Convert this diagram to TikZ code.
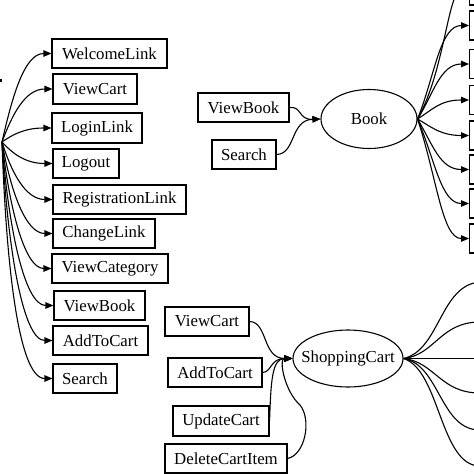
\documentclass[tikz,border=0pt]{standalone}
\usepackage{fontspec}
\setmainfont{Liberation Serif}
\usetikzlibrary{arrows.meta,shapes.geometric}
\begin{document}
\begin{tikzpicture}[x=1pt,y=-1pt,
  bx/.style={draw, line width=1.1pt, rectangle, inner sep=0pt, minimum height=29pt, font=\fontsize{16.8}{20}\selectfont},
  el/.style={draw, line width=1.1pt, ellipse, inner sep=0pt, font=\fontsize{16.8}{20}\selectfont},
  arr/.style={line width=1.1pt, -{Triangle[length=8pt,width=6.5pt]}},
  ln/.style={line width=1.1pt}]
\useasboundingbox (0,0) rectangle (474,474);
\fill[white] (0,0) rectangle (474,474);
\clip (0,0) rectangle (474,474);

% left fan
\coordinate (hubL) at (2,142);
\node[bx, minimum width=115pt] (wl) at (109.5,53.5) {WelcomeLink};
\node[bx, minimum width=84pt, minimum height=30pt] (vca) at (95,89) {ViewCart};
\node[bx, minimum width=90pt, minimum height=30pt] (ll) at (97,128) {LoginLink};
\node[bx, minimum width=66pt] (lo) at (86,163.5) {Logout};
\node[bx, minimum width=133pt] (rl) at (119.5,199.5) {RegistrationLink};
\node[bx, minimum width=102pt] (cl) at (104,233.5) {ChangeLink};
\node[bx, minimum width=116pt] (vcat) at (110,268.5) {ViewCategory};
\node[bx, minimum width=91pt] (vba) at (99.5,305.5) {ViewBook};
\node[bx, minimum width=95pt] (atca) at (100.5,340.5) {AddToCart};
\node[bx, minimum width=64pt] (sa) at (85,378.5) {Search};
\fill (0,79) rectangle (2,82);

\draw[arr] (hubL) .. controls (12,98) and (24,53.5) .. (wl.west);
\draw[arr] (hubL) .. controls (12,115) and (25,89) .. (vca.west);
\draw[arr] (hubL) .. controls (12,135) and (24,128) .. (ll.west);
\draw[arr] (hubL) .. controls (12,153) and (25,163.5) .. (lo.west);
\draw[arr] (hubL) .. controls (11,171) and (25,199.5) .. (rl.west);
\draw[arr] (hubL) .. controls (10,188) and (25,233.5) .. (cl.west);
\draw[arr] (hubL) .. controls (9,205) and (24,268.5) .. (vcat.west);
\draw[arr] (hubL) .. controls (8,224) and (24,305.5) .. (vba.west);
\draw[arr] (hubL) .. controls (7,241) and (22,340.5) .. (atca.west);
\draw[arr] (hubL) .. controls (6,260) and (18,378.5) .. (sa.west);

% Book
\node[bx, minimum width=91pt] (vbb) at (243.5,107.5) {ViewBook};
\node[bx, minimum width=64pt] (sb) at (244,154.5) {Search};
\node[el, minimum width=96pt, minimum height=59pt] (book) at (369,119) {\makebox[0pt]{Book}};
\draw[arr] (vbb.east) .. controls (302,106) and (298,120) .. (book.west);
\draw[arr] (sb.east) .. controls (296,154) and (290,120) .. (book.west);

\foreach \n/\y in {0/-9.5,1/25.5,2/64,3/100,4/135.5,5/169.5,6/203.5,7/238.5}
  \node[bx, minimum width=60pt, anchor=west] (rb\n) at (469,\y) {};
\draw[arr] (book.east) .. controls (445,70) and (448,-10) .. (rb0.west);
\draw[arr] (book.east) .. controls (435,75) and (440,25.5) .. (rb1.west);
\draw[arr] (book.east) .. controls (433,95) and (440,64) .. (rb2.west);
\draw[arr] (book.east) .. controls (432,110) and (440,100) .. (rb3.west);
\draw[arr] (book.east) .. controls (430,126) and (440,135.5) .. (rb4.west);
\draw[arr] (book.east) .. controls (433,145) and (440,169.5) .. (rb5.west);
\draw[arr] (book.east) .. controls (435,160) and (441,203.5) .. (rb6.west);
\draw[arr] (book.east) .. controls (437,178) and (442,238.5) .. (rb7.west);

% ShoppingCart
\node[bx, minimum width=84pt] (vcb) at (207,321.5) {ViewCart};
\node[bx, minimum width=94pt] (atcb) at (215,372.5) {AddToCart};
\node[bx, minimum width=96pt, minimum height=30pt] (uc) at (221,421) {UpdateCart};
\node[bx, minimum width=122pt] (dci) at (226,458.5) {DeleteCartItem};
\node[el, minimum width=110pt, minimum height=57pt] (sc) at (348,358.5) {\makebox[0pt]{ShoppingCart}};
\draw[arr] (vcb.east) .. controls (268,322) and (262,358.5) .. (sc.west);
\draw[arr] (atcb.east) .. controls (272,372) and (270,358.5) .. (sc.west);
\draw[arr] (uc.east) .. controls (271,380) and (272,358.5) .. (sc.west);
\draw[arr] (dci.east) .. controls (305,455) and (312,420) .. (300,405) .. controls (285,392) and (278,358.5) .. (sc.west);

\coordinate (o1) at (480,282);
\coordinate (o2) at (480,322);
\coordinate (o3) at (480,358.5);
\coordinate (o4) at (480,393);
\coordinate (o5) at (480,430);
\coordinate (o6) at (480,466);
\draw[ln] (sc.east) .. controls (440,350) and (440,285) .. (o1);
\draw[ln] (sc.east) .. controls (435,355) and (440,322) .. (o2);
\draw[ln] (sc.east) -- (o3);
\draw[ln] (sc.east) .. controls (435,362) and (440,393) .. (o4);
\draw[ln] (sc.east) .. controls (440,365) and (440,430) .. (o5);
\draw[ln] (sc.east) .. controls (440,370) and (440,466) .. (o6);
\end{tikzpicture}
\end{document}
